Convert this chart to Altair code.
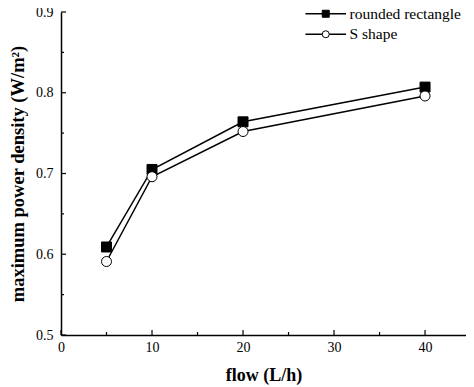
import altair as alt
import pandas as pd

# ---- data ----
flow = [5, 10, 20, 40]
rounded_rect = [0.609, 0.705, 0.764, 0.807]
s_shape = [0.591, 0.696, 0.752, 0.796]
series_names = ["rounded rectangle", "S shape"]
x_major = [0, 10, 20, 30, 40]
x_minor = [5, 15, 25, 35]
y_major = [0.5, 0.6, 0.7, 0.8, 0.9]
y_minor = [0.55, 0.65, 0.75, 0.85]

rows = []
for name, vals in zip(series_names, [rounded_rect, s_shape]):
    for f, v in zip(flow, vals):
        rows.append({"flow": f, "density": v, "series": name, "series_line": name})
df = pd.DataFrame(rows)

W, H = 405, 323
FONT = "Liberation Serif"

xscale = alt.Scale(domain=[0, 44.5], nice=False, zero=False)
yscale = alt.Scale(domain=[0.5, 0.9], nice=False, zero=False)

xaxis = alt.Axis(values=x_major, format="d", title="flow (L/h)", ticks=False, tickSize=0,
                 grid=False, labelPadding=5, titlePadding=12, domainColor="black",
                 domainWidth=1.5, labelFont=FONT, labelFontSize=14, labelColor="black",
                 titleFont=FONT, titleFontSize=18, titleFontWeight="bold", titleColor="black",
                 labelFlush=False)
yaxis = alt.Axis(values=y_major, format=".1f", title="maximum power density (W/m²)",
                 ticks=False, tickSize=0, grid=False, labelPadding=8, titlePadding=8,
                 domainColor="black", domainWidth=1.5, labelFont=FONT, labelFontSize=14,
                 labelColor="black", titleFont=FONT, titleFontSize=18.5, titleFontWeight="bold",
                 titleColor="black", labelFlush=False)

legend_common = dict(orient="none", legendX=257, legendY=-6, title=None, symbolSize=49,
                     labelFont=FONT, labelFontSize=15.5, labelColor="black", labelOffset=16,
                     rowPadding=3.5, padding=0)

line_legend = alt.Legend(symbolType="M-5.8,0L5.8,0", symbolStrokeColor="black",
                         symbolStrokeWidth=1.5, symbolFillColor="transparent",
                         labelOpacity=0, **legend_common)
point_legend = alt.Legend(symbolStrokeColor="black", symbolStrokeWidth=1, **legend_common)

lines = alt.Chart(df).mark_line(strokeWidth=1.5).encode(
    x=alt.X("flow:Q", scale=xscale, axis=xaxis),
    y=alt.Y("density:Q", scale=yscale, axis=yaxis),
    color=alt.Color("series_line:N", sort=series_names,
                    scale=alt.Scale(range=["black", "black"]),
                    legend=line_legend),
)

points = alt.Chart(df).mark_point(filled=True, strokeWidth=1, opacity=1).encode(
    x=alt.X("flow:Q", scale=xscale),
    y=alt.Y("density:Q", scale=yscale),
    size=alt.value(100),
    shape=alt.Shape("series:N", scale=alt.Scale(domain=series_names, range=["square", "circle"]),
                    legend=point_legend),
    fill=alt.Fill("series:N", scale=alt.Scale(domain=series_names, range=["black", "white"]),
                  legend=point_legend),
    stroke=alt.Stroke("series:N", scale=alt.Scale(domain=series_names, range=["black", "black"]),
                      legend=point_legend),
)

xt_major = alt.Chart(pd.DataFrame({"v": x_major})).mark_rule(color="black", strokeWidth=1.2).encode(
    x=alt.X("v:Q", scale=xscale), y=alt.value(H), y2=alt.value(H - 5))
xt_minor = alt.Chart(pd.DataFrame({"v": x_minor})).mark_rule(color="black", strokeWidth=1.2).encode(
    x=alt.X("v:Q", scale=xscale), y=alt.value(H), y2=alt.value(H - 3))
yt_major = alt.Chart(pd.DataFrame({"v": y_major})).mark_rule(color="black", strokeWidth=1.2).encode(
    y=alt.Y("v:Q", scale=yscale), x=alt.value(0), x2=alt.value(5))
yt_minor = alt.Chart(pd.DataFrame({"v": y_minor})).mark_rule(color="black", strokeWidth=1.2).encode(
    y=alt.Y("v:Q", scale=yscale), x=alt.value(0), x2=alt.value(3))

chart = alt.layer(lines, points, xt_major, xt_minor, yt_major, yt_minor).properties(
    width=W, height=H,
    padding={"left": 53, "top": 4, "right": 0, "bottom": 52},
    autosize=alt.AutoSizeParams(type="none"),
    background="white",
).configure_view(stroke=None)

chart.save("out.html", embed_options={"renderer": "svg", "actions": False})
